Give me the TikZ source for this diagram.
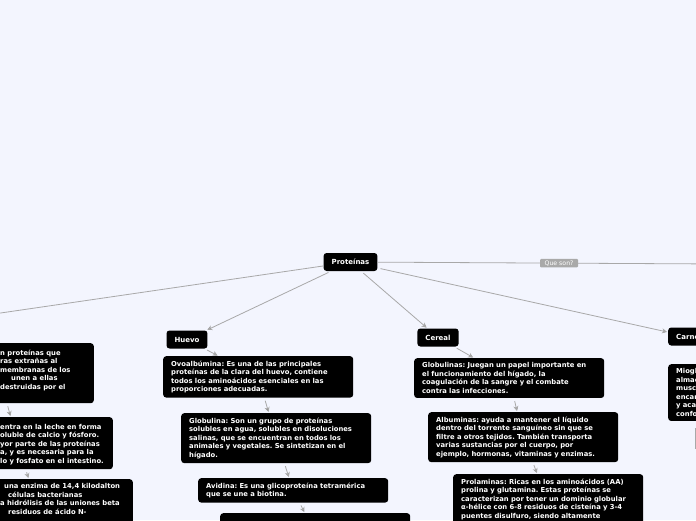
\documentclass[tikz,border=0pt]{standalone}
\usepackage{fontspec}
\setmainfont{DejaVu Sans}
\usetikzlibrary{arrows.meta}
\frenchspacing
\definecolor{bgblue}{HTML}{F3F5FE}
\definecolor{linkgray}{HTML}{A8A8A8}
\definecolor{tagfill}{HTML}{A9A9A9}
\tikzset{
  topic/.style={fill=black, rounded corners=3pt, text=white, inner xsep=8pt, inner ysep=0pt,
    minimum height=18pt, font=\bfseries\fontsize{7}{8}\selectfont},
  card/.style={fill=black, rounded corners=3pt, text=white, align=left, text width=174pt,
    inner xsep=8pt, inner ysep=4.5pt, anchor=north west, font=\bfseries\fontsize{6.8}{8.5}\selectfont},
  cardtext/.style={text=white, align=left, inner sep=0pt, anchor=north west,
    font=\bfseries\fontsize{6.8}{8.5}\selectfont},
  tag/.style={fill=tagfill, rounded corners=1pt, text=white, inner xsep=3pt, inner ysep=1.5pt,
    minimum width=38pt, font=\fontsize{6.2}{7}\selectfont},
  link/.style={draw=linkgray, line width=0.8pt, -{Stealth[length=5pt,width=5pt]},
    shorten <=3pt, shorten >=1pt},
  plain/.style={draw=linkgray, line width=0.8pt}
}
\begin{document}
\begin{tikzpicture}[x=1pt, y=-1pt]
\useasboundingbox (0,0) rectangle (696,520);
\fill[bgblue] (0,0) rectangle (696,520);

% main topic
\node[topic] (prot) at (350.5,262) {Proteínas};
\coordinate (offleft) at (-20,316);
\coordinate (offright) at (720,264);

\node[topic] (huevo) at (187,339.5) {Huevo};
\node[topic] (cereal) at (438,337.5) {Cereal};
\node[topic, anchor=west] (carne) at (668,336.5) {Carne};

% huevo
\node[card] (ovo) at (163,356) {Ovoalbúmina: Es una de las principales\\proteínas de la clara del huevo, contiene\\todos los aminoácidos esenciales en las\\proporciones adecuadas.};
\node[card] (glob) at (181,413) {Globulina: Son un grupo de proteínas\\solubles en agua, solubles en disoluciones\\salinas, que se encuentran en todos los\\animales y vegetales. Se sintetizan en el\\hígado.};
\node[card] (avid) at (198,478) {Avidina: Es una glicoproteína tetramérica\\que se une a biotina.};
\node[card, minimum height=40pt] (lisoz) at (220,513) {};

% cereal
\node[card] (globs) at (414,358) {Globulinas: Juegan un papel importante en\\el funcionamiento del hígado, la\\coagulación de la sangre y el combate\\contra las infecciones.};
\node[card] (albu) at (428,412) {Albuminas: ayuda a mantener el líquido\\dentro del torrente sanguíneo sin que se\\filtre a otros tejidos. También transporta\\varias sustancias por el cuerpo, por\\ejemplo, hormonas, vitaminas y enzimas.};
\node[card] (prola) at (453,474) {Prolaminas: Ricas en los aminoácidos (AA)\\prolina y glutamina. Estas proteínas se\\caracterizan por tener un dominio globular\\α-hélice con 6-8 residuos de cisteína y 3-4\\puentes disulfuro, siendo altamente\\~};

% carne
\node[card] (mio) at (668,364) {Mioglo\\almac\\musc\\encar\\y acab\\confo};
\coordinate (mioout) at (695,428);
\coordinate (miodown) at (695,449);

% left branch
\node[card, minimum width=190pt, minimum height=60pt, anchor=north east] (opso) at (94,343) {};
\node[cardtext] (opsotext) at (0,349.5) {n proteínas que\\ras extrañas al\\membranas de los\\\hspace*{11pt}unen a ellas\\destruidas por el};
\node[card, minimum width=190pt, minimum height=52pt, anchor=north east] (case) at (113,417) {};
\node[cardtext] (casetext) at (0,424) {entra en la leche en forma\\oluble de calcio y fósforo.\\yor parte de las proteínas\\a, y es necesaria para la\\lo y fosfato en el intestino.};
\node[card, minimum width=190pt, minimum height=60pt, anchor=north east] (liso) at (133,479) {};
\node[cardtext] (lisotext) at (0,483.5) {\hspace*{4pt}una enzima de 14,4 kilodalton\\\hspace*{8pt}células bacterianas\\a hidrólisis de las uniones beta\\\hspace*{8pt}residuos de ácido N-};

% connectors
\path[plain] (prot) edge (offleft);
\path[plain] (prot) edge node[tag, pos=0.53] (queson) {Que son?} (offright);
\path[link] (prot) edge (huevo);
\path[link] (prot) edge (cereal);
\path[link] (prot) edge (carne);

\path[link] (huevo) edge (ovo);
\path[link] (ovo) edge (glob);
\path[link] (glob) edge (avid);
\path[link] (avid) edge (lisoz);

\path[link] (cereal) edge (globs);
\path[link] (globs) edge (albu);
\path[link] (albu) edge (prola);

\path[plain] (mioout) edge (miodown);

\path[link] (opso) edge (case);
\path[link] (case) edge (liso);
\end{tikzpicture}
\end{document}
